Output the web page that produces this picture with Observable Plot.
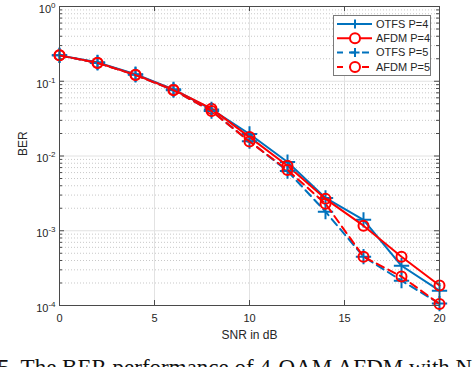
<!DOCTYPE html>
<html><head><meta charset="utf-8">
<script src="https://cdn.jsdelivr.net/npm/d3@7"></script>
<script src="https://cdn.jsdelivr.net/npm/@observablehq/plot@0.6"></script>
<style>
body{margin:0;background:#fff;width:474px;height:367px;overflow:hidden;position:relative;font-family:"Liberation Sans",Arial,sans-serif}
#chart{position:absolute;left:0;top:0}
#cap{position:absolute;left:-2px;top:356px;font-family:"Liberation Serif","Times New Roman",serif;font-size:23px;white-space:nowrap;color:#111;line-height:1}
#legend{position:absolute;left:333px;top:15px}
</style></head><body>
<div id="chart"></div>
<div id="cap">5. The BER performance of 4-QAM AFDM with N</div>
<div id="legend"></div>
<script>
const snr = [0, 2, 4, 6, 8, 10, 12, 14, 16, 18, 20];
const otfsP4 = [0.222, 0.179, 0.124, 0.078, 0.042, 0.0197, 0.0083, 0.00275, 0.0014, 0.00034, 0.000158];
const afdmP4 = [0.222, 0.177, 0.122, 0.077, 0.043, 0.0179, 0.0074, 0.00267, 0.00117, 0.00045, 0.000185];
const otfsP5 = [0.222, 0.176, 0.122, 0.076, 0.040, 0.0158, 0.0063, 0.0018, 0.00045, 0.000215, 0.000106];
const afdmP5 = [0.222, 0.176, 0.121, 0.076, 0.040, 0.0156, 0.0065, 0.0023, 0.00045, 0.000244, 0.000105];
const seriesNames = ["OTFS P=4", "AFDM P=4", "OTFS P=5", "AFDM P=5"];
const seriesValues = [otfsP4, afdmP4, otfsP5, afdmP5];
const xTicks = [0, 5, 10, 15, 20];
const yTicks = [1e-4, 1e-3, 1e-2, 1e-1, 1];
const xLabel = "SNR in dB";
const yLabel = "BER";

const styles = {
  "OTFS P=4": {stroke: "#0072BD", dash: null, symbol: "plus"},
  "AFDM P=4": {stroke: "#FF0000", dash: null, symbol: "circle"},
  "OTFS P=5": {stroke: "#0072BD", dash: "8,5", symbol: "plus"},
  "AFDM P=5": {stroke: "#FF0000", dash: "8,5", symbol: "circle"}
};

const rows = seriesNames.flatMap((name, i) => snr.map((x, j) => ({series: name, snr: x, ber: seriesValues[i][j]})));
const yMinor = [];
for (let e = -4; e < 0; e++) for (let m = 2; m <= 9; m++) yMinor.push(m * Math.pow(10, e));

const W = 474, H = 350, ML = 59, MR = 35, MT = 6, MB = 45;
const fw = W - ML - MR, fh = H - MT - MB;
const axisColor = "#4a4a4a";

const marks = [
  Plot.ruleX(xTicks.slice(1, -1), {stroke: "#e2e2e2", strokeWidth: 1}),
  Plot.ruleY(yMinor, {stroke: "#c8c8c8", strokeWidth: 1, strokeDasharray: "1,2"}),
  Plot.ruleY(yTicks.slice(1, -1), {stroke: "#e2e2e2", strokeWidth: 1}),
];
for (const name of seriesNames) {
  const s = styles[name];
  const d = rows.filter(r => r.series === name);
  marks.push(Plot.line(d, {x: "snr", y: "ber", stroke: s.stroke, strokeWidth: 2, strokeDasharray: s.dash}));
  marks.push(Plot.dot(d, {x: "snr", y: "ber", stroke: s.stroke, strokeWidth: 2, fill: "none", symbol: s.symbol, r: 5}));
}
marks.push(
  Plot.frame({stroke: axisColor, strokeWidth: 1}),
  Plot.tickY(yTicks, {y: d => d, insetRight: fw - 5, stroke: axisColor}),
  Plot.tickY(yTicks, {y: d => d, insetLeft: fw - 5, stroke: axisColor}),
  Plot.tickY(yMinor, {y: d => d, insetRight: fw - 3, stroke: axisColor}),
  Plot.tickY(yMinor, {y: d => d, insetLeft: fw - 3, stroke: axisColor}),
  Plot.tickX(xTicks, {x: d => d, insetTop: fh - 5, stroke: axisColor}),
  Plot.tickX(xTicks, {x: d => d, insetBottom: fh - 5, stroke: axisColor}),
  Plot.text([xLabel], {frameAnchor: "bottom", dy: 33, fontSize: 12, fill: "#262626"}),
  Plot.text([yLabel], {frameAnchor: "left", dx: -36, rotate: -90, fontSize: 12, fill: "#262626"})
);

const chart = Plot.plot({
  width: W, height: H,
  marginLeft: ML, marginRight: MR, marginTop: MT, marginBottom: MB,
  style: {fontFamily: "'Liberation Sans', Arial, sans-serif", fontSize: "11px", color: "#262626", background: "#fff"},
  x: {domain: [0, 20], ticks: xTicks, tickSize: 0, tickPadding: 9, label: null},
  y: {type: "log", domain: [1e-4, 1], ticks: yTicks, tickSize: 0, tickPadding: 4,
      tickFormat: d => "10^" + Math.round(Math.log10(d)), label: null},
  marks
});
document.getElementById("chart").appendChild(chart);

// superscript exponents in y tick labels
d3.select(chart).selectAll("text").each(function() {
  const t = this.textContent;
  if (/^10\^-?\d+$/.test(t)) {
    const exp = t.split("^")[1];
    const sel = d3.select(this);
    sel.text("");
    sel.append("tspan").attr("dy", "0.25em").text("10");
    sel.append("tspan").attr("dy", "-0.6em").attr("font-size", "8px").text(exp);
  }
});

// legend
const lg = d3.select("#legend").append("svg").attr("width", 98).attr("height", 61)
  .style("font-family", "'Liberation Sans', Arial, sans-serif").style("font-size", "11px");
lg.append("rect").attr("x", 0.5).attr("y", 0.5).attr("width", 97).attr("height", 60)
  .attr("fill", "#fff").attr("stroke", "#7a7a7a");
seriesNames.forEach((name, i) => {
  const s = styles[name];
  const y = 9 + i * 14.3;
  const g = lg.append("g").attr("transform", `translate(0,${y})`);
  g.append("line").attr("x1", 4).attr("x2", 39).attr("y1", 0).attr("y2", 0)
    .attr("stroke", s.stroke).attr("stroke-width", 2).attr("stroke-dasharray", s.dash ? "7,6" : null)
    .attr("stroke-dashoffset", s.dash ? 1 : null);
  if (s.symbol === "circle") {
    g.append("circle").attr("cx", 22).attr("cy", 0).attr("r", 5).attr("fill", "#fff").attr("stroke", s.stroke).attr("stroke-width", 2);
  } else {
    g.append("path").attr("d", "M17.5,0H26.5M22,-4.5V4.5").attr("stroke", s.stroke).attr("stroke-width", 2);
  }
  g.append("text").attr("x", 43).attr("y", 0).attr("dy", "0.35em").attr("fill", "#262626").text(name);
});
</script>
</body></html>
